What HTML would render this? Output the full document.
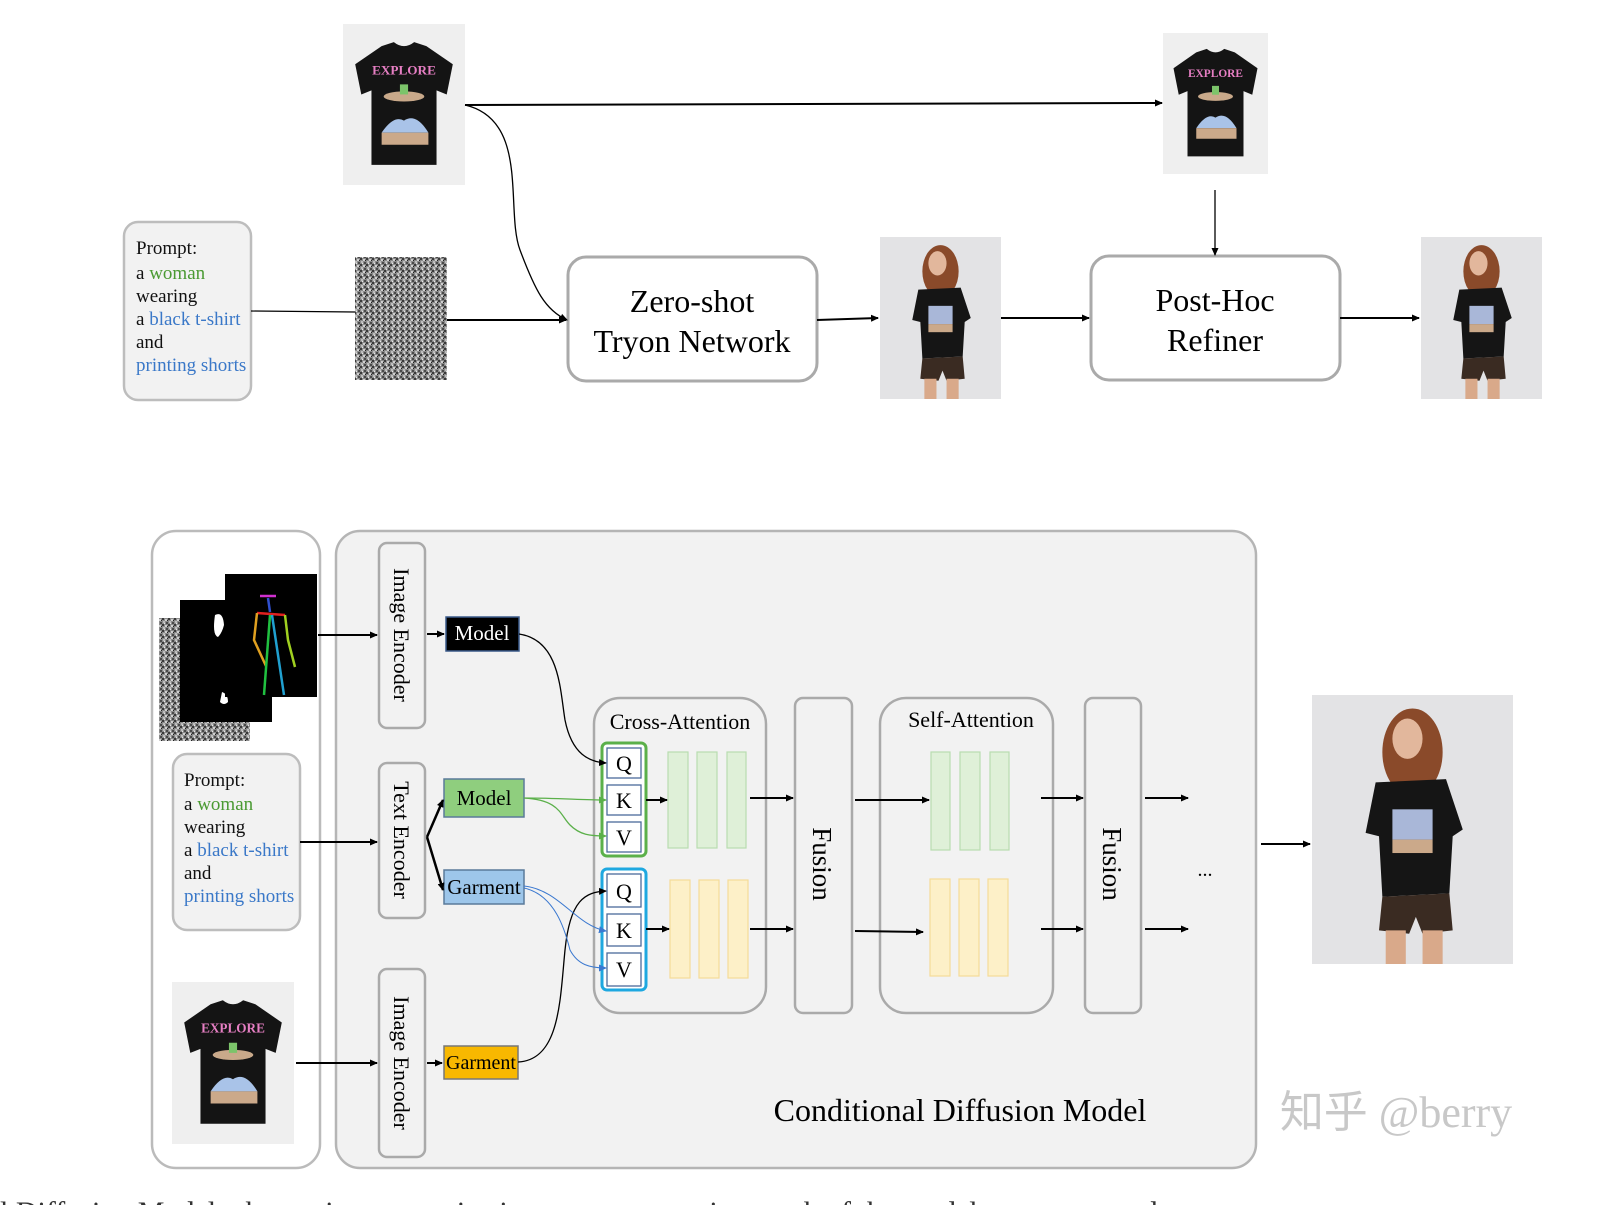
<!DOCTYPE html>
<html><head><meta charset="utf-8"><style>
html,body{margin:0;padding:0;background:#fff;width:1600px;height:1205px;overflow:hidden}
svg{display:block}
text{font-family:"Liberation Serif",serif}
</style></head><body>
<svg width="1600" height="1205" viewBox="0 0 1600 1205" xmlns="http://www.w3.org/2000/svg">
<defs>
<marker id="ah" markerWidth="8" markerHeight="8" refX="7" refY="4" orient="auto" markerUnits="userSpaceOnUse"><path d="M0,0.5 L8,4 L0,7.5 z" fill="#000"/></marker>
<marker id="ahg" markerWidth="8" markerHeight="8" refX="7" refY="4" orient="auto" markerUnits="userSpaceOnUse"><path d="M0,0.5 L8,4 L0,7.5 z" fill="#5bb04a"/></marker>
<marker id="ahb" markerWidth="8" markerHeight="8" refX="7" refY="4" orient="auto" markerUnits="userSpaceOnUse"><path d="M0,0.5 L8,4 L0,7.5 z" fill="#3a78d0"/></marker>
<pattern id="nz" width="6" height="6" patternUnits="userSpaceOnUse"><rect width="6" height="6" fill="#8a8a8a"/><rect x="0" y="0" width="2" height="2" fill="#3a3a3a"/><rect x="3" y="1" width="2" height="2" fill="#d0d0d0"/><rect x="1" y="3" width="2" height="2" fill="#bdbdbd"/><rect x="4" y="4" width="2" height="2" fill="#4a4a4a"/><rect x="2" y="5" width="1" height="1" fill="#e8e8e8"/><rect x="5" y="2" width="1" height="1" fill="#222"/></pattern>
<symbol id="tee" viewBox="0 0 120 160" preserveAspectRatio="none">
<rect width="120" height="160" fill="#efefef"/>
<path d="M38,22 L50,18 Q60,26 70,18 L82,22 L108,40 L102,70 L92,66 L92,140 L28,140 L28,66 L18,70 L12,40 Z" fill="#141414"/>
<text x="60" y="50" font-size="13" text-anchor="middle" fill="#e77fc4" font-family="Liberation Sans,sans-serif" font-weight="bold">EXPLORE</text>
<ellipse cx="60" cy="72" rx="20" ry="5" fill="#c9a98a"/>
<rect x="56" y="60" width="8" height="10" fill="#7cc46a"/>
<path d="M38,108 Q50,90 60,96 Q72,88 84,108 Z" fill="#a9c3e8"/>
<rect x="38" y="108" width="46" height="12" fill="#cba98a"/>
</symbol>
<symbol id="person" viewBox="0 0 120 160" preserveAspectRatio="none">
<rect width="120" height="160" fill="#e3e3e5"/>
<ellipse cx="60" cy="34" rx="18" ry="26" fill="#8a4a2a"/>
<ellipse cx="57" cy="26" rx="9" ry="12" fill="#e2b79c"/>
<path d="M38,52 L80,50 L90,80 L84,84 L82,118 L42,120 L40,84 L32,82 Z" fill="#151515"/>
<rect x="48" y="68" width="24" height="18" fill="#a9b7d8"/>
<rect x="48" y="86" width="24" height="8" fill="#cba98a"/>
<path d="M42,120 L82,118 L84,140 L66,142 L62,132 L58,142 L40,140 Z" fill="#3a2b22"/>
<rect x="44" y="140" width="12" height="20" fill="#d9a98a"/>
<rect x="66" y="140" width="12" height="20" fill="#d9a98a"/>
</symbol>
</defs>

<!-- TOP -->
<use href="#tee" x="343" y="24" width="122" height="161"/>
<use href="#tee" x="1163" y="33" width="105" height="141"/>
<rect x="124" y="222" width="127" height="178" rx="14" fill="#f2f2f2" stroke="#bdbdbd" stroke-width="2.5"/>
<g font-size="19">
<text x="136" y="254" fill="#111">Prompt:</text>
<text x="136" y="279" fill="#111">a <tspan fill="#4a9a32">woman</tspan></text>
<text x="136" y="302" fill="#111">wearing</text>
<text x="136" y="325" fill="#111">a <tspan fill="#3a78c8">black t-shirt</tspan></text>
<text x="136" y="348" fill="#111">and</text>
<text x="136" y="371" fill="#3a78c8">printing shorts</text>
</g>
<rect x="355" y="257" width="92" height="123" fill="url(#nz)"/>
<rect x="568" y="257" width="249" height="124" rx="18" fill="#fff" stroke="#aaa" stroke-width="3"/>
<text x="692" y="312" font-size="32" text-anchor="middle">Zero-shot</text>
<text x="692" y="352" font-size="32" text-anchor="middle">Tryon Network</text>
<use href="#person" x="880" y="237" width="121" height="162"/>
<rect x="1091" y="256" width="249" height="124" rx="18" fill="#fff" stroke="#aaa" stroke-width="3"/>
<text x="1215" y="311" font-size="32" text-anchor="middle">Post-Hoc</text>
<text x="1215" y="351" font-size="32" text-anchor="middle">Refiner</text>
<use href="#person" x="1421" y="237" width="121" height="162"/>
<g stroke="#000" stroke-width="2" fill="none">
<line x1="465" y1="105" x2="1162" y2="103" marker-end="url(#ah)"/>
<path d="M465,105 C530,120 505,210 520,250 C535,290 545,310 567,320" stroke-width="1.3" marker-end="url(#ah)"/>
<line x1="251" y1="311" x2="355" y2="312" stroke-width="1.2"/>
<line x1="447" y1="320" x2="566" y2="320" marker-end="url(#ah)"/>
<line x1="817" y1="320" x2="878" y2="318" marker-end="url(#ah)"/>
<line x1="1001" y1="318" x2="1089" y2="318" marker-end="url(#ah)"/>
<line x1="1340" y1="318" x2="1419" y2="318" marker-end="url(#ah)"/>
<line x1="1215" y1="190" x2="1215" y2="255" stroke-width="1.3" marker-end="url(#ah)"/>
</g>

<!-- BOTTOM -->
<rect x="152" y="531" width="168" height="637" rx="24" fill="#fff" stroke="#bbb" stroke-width="2.5"/>
<rect x="336" y="531" width="920" height="637" rx="24" fill="#f2f2f2" stroke="#b5b5b5" stroke-width="2.5"/>
<rect x="159" y="618" width="91" height="123" fill="url(#nz)"/>
<rect x="180" y="600" width="92" height="122" fill="#000"/>
<path d="M215,615 q8,-4 9,10 q-2,8 -6,12 q-6,-2 -3,-22z M222,692 q6,2 6,10 q-4,4 -8,0z" fill="#fff"/>
<rect x="225" y="574" width="92" height="123" fill="#000"/>
<g stroke-width="2.5" fill="none">
<line x1="260" y1="596" x2="276" y2="596" stroke="#d030d0"/>
<line x1="268" y1="598" x2="270" y2="612" stroke="#3050d0"/>
<line x1="257" y1="613" x2="285" y2="615" stroke="#e02020"/>
<polyline points="257,613 254,640 266,666" stroke="#e0a020"/>
<polyline points="285,615 288,640 295,667" stroke="#a0d020"/>
<line x1="270" y1="615" x2="264" y2="695" stroke="#20c040"/>
<line x1="272" y1="615" x2="284" y2="695" stroke="#20a0d0"/>
</g>
<rect x="173" y="754" width="127" height="176" rx="14" fill="#f2f2f2" stroke="#bdbdbd" stroke-width="2.5"/>
<g font-size="19">
<text x="184" y="786" fill="#111">Prompt:</text>
<text x="184" y="810" fill="#111">a <tspan fill="#4a9a32">woman</tspan></text>
<text x="184" y="833" fill="#111">wearing</text>
<text x="184" y="856" fill="#111">a <tspan fill="#3a78c8">black t-shirt</tspan></text>
<text x="184" y="879" fill="#111">and</text>
<text x="184" y="902" fill="#3a78c8">printing shorts</text>
</g>
<use href="#tee" x="172" y="982" width="122" height="162"/>

<g fill="#f2f2f2" stroke="#aaa" stroke-width="2.5">
<rect x="379" y="543" width="46" height="185" rx="8"/>
<rect x="379" y="763" width="46" height="155" rx="8"/>
<rect x="379" y="969" width="46" height="188" rx="8"/>
</g>
<g font-size="22">
<text transform="translate(394,635) rotate(90)" text-anchor="middle">Image Encoder</text>
<text transform="translate(394,840) rotate(90)" text-anchor="middle">Text Encoder</text>
<text transform="translate(394,1063) rotate(90)" text-anchor="middle">Image Encoder</text>
</g>
<rect x="446" y="617" width="73" height="34" fill="#000" stroke="#3a5a8a" stroke-width="1.5"/>
<text x="482" y="640" font-size="21" fill="#fff" text-anchor="middle">Model</text>
<rect x="444" y="779" width="80" height="38" fill="#8fce7e" stroke="#5a7a9a" stroke-width="1.5"/>
<text x="484" y="805" font-size="21" text-anchor="middle">Model</text>
<rect x="444" y="870" width="80" height="34" fill="#9dc6ea" stroke="#5a7a9a" stroke-width="1.5"/>
<text x="484" y="894" font-size="21" text-anchor="middle">Garment</text>
<rect x="444" y="1046" width="74" height="33" fill="#f8b800" stroke="#777" stroke-width="1.5"/>
<text x="481" y="1069" font-size="20" text-anchor="middle">Garment</text>

<rect x="594" y="698" width="172" height="315" rx="26" fill="#f2f2f2" stroke="#aaa" stroke-width="2.5"/>
<text x="680" y="729" font-size="22" text-anchor="middle">Cross-Attention</text>
<rect x="602" y="743" width="44" height="113" rx="5" fill="#fff" stroke="#5bb04a" stroke-width="3"/>
<rect x="602" y="869" width="44" height="121" rx="5" fill="#fff" stroke="#1ea8e0" stroke-width="3"/>
<g fill="#fff" stroke="#4a6a9a" stroke-width="1.3">
<rect x="607" y="748" width="34" height="30"/><rect x="607" y="785" width="34" height="30"/><rect x="607" y="822" width="34" height="30"/>
<rect x="607" y="874" width="34" height="33"/><rect x="607" y="914" width="34" height="32"/><rect x="607" y="953" width="34" height="33"/>
</g>
<g font-size="22" text-anchor="middle">
<text x="624" y="771">Q</text><text x="624" y="808">K</text><text x="624" y="845">V</text>
<text x="624" y="899">Q</text><text x="624" y="938">K</text><text x="624" y="977">V</text>
</g>
<g fill="#dff0d8" stroke="#b8ddb0" stroke-width="1.2">
<rect x="668" y="752" width="20" height="96"/><rect x="697" y="752" width="20" height="96"/><rect x="727" y="752" width="19" height="96"/>
<rect x="931" y="752" width="19" height="98"/><rect x="960" y="752" width="20" height="98"/><rect x="990" y="752" width="19" height="98"/>
</g>
<g fill="#fdf0c8" stroke="#f5dc98" stroke-width="1.2">
<rect x="670" y="880" width="20" height="98"/><rect x="699" y="880" width="20" height="98"/><rect x="728" y="880" width="20" height="98"/>
<rect x="930" y="879" width="20" height="97"/><rect x="959" y="879" width="20" height="97"/><rect x="988" y="879" width="20" height="97"/>
</g>
<rect x="795" y="698" width="57" height="315" rx="8" fill="#f2f2f2" stroke="#aaa" stroke-width="2.5"/>
<text transform="translate(813,864) rotate(90)" font-size="27" text-anchor="middle">Fusion</text>
<rect x="880" y="698" width="173" height="315" rx="26" fill="none" stroke="#aaa" stroke-width="2.5"/>
<text x="971" y="727" font-size="22" text-anchor="middle">Self-Attention</text>
<rect x="1085" y="698" width="56" height="315" rx="8" fill="#f2f2f2" stroke="#aaa" stroke-width="2.5"/>
<text transform="translate(1103,864) rotate(90)" font-size="27" text-anchor="middle">Fusion</text>
<text x="1205" y="876" font-size="20" text-anchor="middle">...</text>

<use href="#person" x="1312" y="695" width="201" height="269"/>

<text x="960" y="1121" font-size="32" text-anchor="middle">Conditional Diffusion Model</text>
<text x="1396" y="1127" font-size="44" fill="#c8c8c8" text-anchor="middle" font-family="Liberation Sans,'Noto Sans CJK SC',sans-serif">知乎 @berry</text>

<g stroke="#000" stroke-width="2" fill="none">
<line x1="318" y1="635" x2="377" y2="635" marker-end="url(#ah)"/>
<line x1="427" y1="634" x2="444" y2="634" marker-end="url(#ah)"/>
<line x1="300" y1="842" x2="377" y2="842" marker-end="url(#ah)"/>
<line x1="296" y1="1063" x2="377" y2="1063" marker-end="url(#ah)"/>
<line x1="427" y1="1063" x2="442" y2="1063" marker-end="url(#ah)"/>
<path d="M427,837 L443,800" marker-end="url(#ah)" stroke-width="2.5"/>
<path d="M427,837 L443,890" marker-end="url(#ah)" stroke-width="2.5"/>
<path d="M519,634 C560,640 560,690 565,720 C572,755 590,762 606,763" stroke-width="1.3" marker-end="url(#ah)"/>
<path d="M518,1062 C560,1060 560,1000 565,950 C570,900 585,892 606,891" stroke-width="1.3" marker-end="url(#ah)"/>
<line x1="646" y1="800" x2="667" y2="800" marker-end="url(#ah)"/>
<line x1="646" y1="929" x2="669" y2="929" marker-end="url(#ah)"/>
<line x1="750" y1="798" x2="793" y2="798" marker-end="url(#ah)"/>
<line x1="750" y1="929" x2="793" y2="929" marker-end="url(#ah)"/>
<line x1="855" y1="800" x2="929" y2="800" marker-end="url(#ah)"/>
<line x1="855" y1="931" x2="923" y2="932" marker-end="url(#ah)"/>
<line x1="1041" y1="798" x2="1083" y2="798" marker-end="url(#ah)"/>
<line x1="1041" y1="929" x2="1083" y2="929" marker-end="url(#ah)"/>
<line x1="1145" y1="798" x2="1188" y2="798" marker-end="url(#ah)"/>
<line x1="1145" y1="929" x2="1188" y2="929" marker-end="url(#ah)"/>
<line x1="1261" y1="844" x2="1310" y2="844" marker-end="url(#ah)"/>
</g>
<g stroke="#5bb04a" stroke-width="1.3" fill="none">
<path d="M524,798 C560,798 580,800 606,800" marker-end="url(#ahg)"/>
<path d="M524,798 C560,800 560,815 570,825 C580,835 590,836 606,836" marker-end="url(#ahg)"/>
</g>
<g stroke="#3a78d0" stroke-width="1" fill="none">
<path d="M524,886 C560,890 575,925 606,931" marker-end="url(#ahb)"/>
<path d="M524,888 C555,895 565,930 570,950 C578,965 590,968 606,968" marker-end="url(#ahb)"/>
</g>
<text x="0" y="1222" font-size="30" fill="#333" font-family="Liberation Sans,sans-serif">l Diffusion Model takes as inputs a noisy image, segmentation mask of the model, pose map and text prompt</text>
</svg>
</body></html>
